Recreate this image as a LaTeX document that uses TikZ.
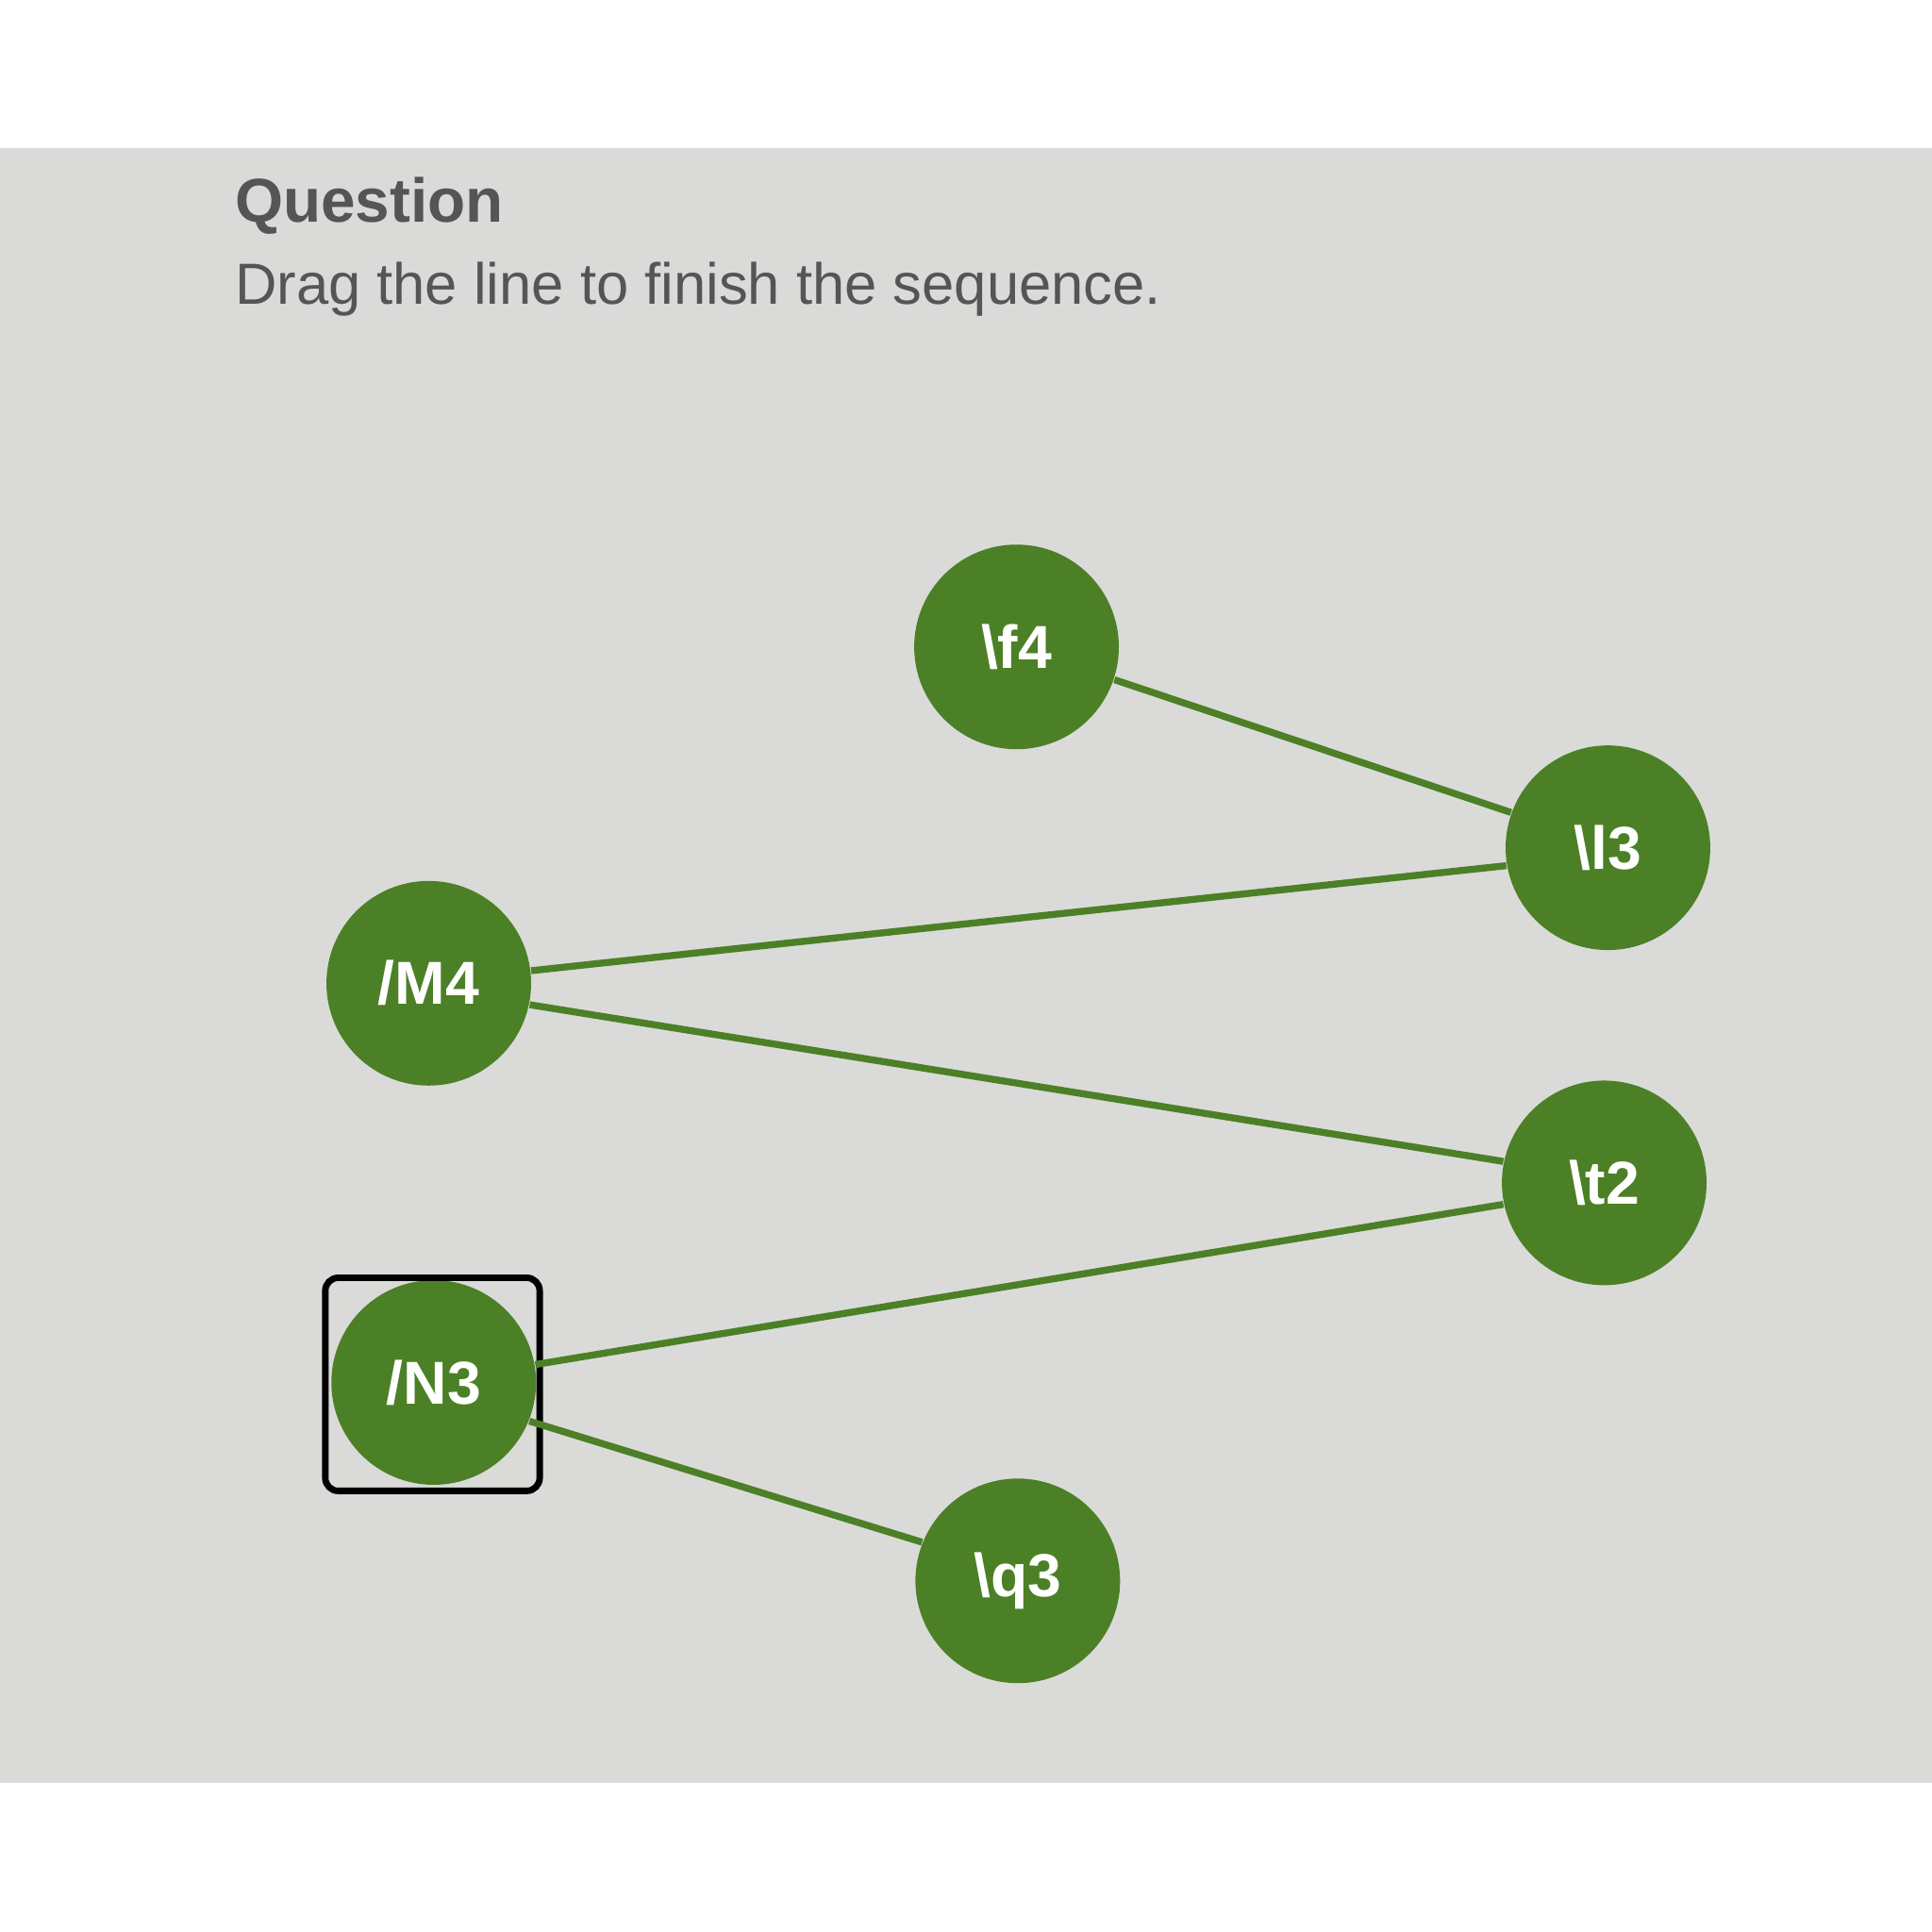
\documentclass[tikz,border=0pt]{standalone}
\usepackage{fontspec}
\setmainfont{Liberation Sans}
\definecolor{gr}{RGB}{76,128,38}
\definecolor{bg}{RGB}{218,219,217}
\definecolor{tx}{RGB}{85,85,85}
\begin{document}
\begin{tikzpicture}[x=0.01cm,y=-0.01cm,
  nd/.style={circle,fill=gr,minimum size=1.66cm,inner sep=0pt,text=white,font=\bfseries\fontsize{14}{17}\selectfont},
  ln/.style={gr,line width=1.6pt}]
\useasboundingbox (0,0) rectangle (1568,1568);
\fill[white] (0,0) rectangle (1568,1568);
\fill[bg] (0,120) rectangle (1568,1447);
\node[anchor=base west,inner sep=0pt,text=tx,font=\bfseries\fontsize{14.3}{17}\selectfont] (q) at (190,180) {Question};
\node[anchor=base west,inner sep=0pt,text=tx,font=\fontsize{13.4}{16}\selectfont] (d) at (190,247) {Drag the line to finish the sequence.};
\node[nd] (f4) at (825,525) {\textbackslash f4};
\node[nd] (l3) at (1305,688) {\textbackslash l3};
\node[nd] (m4) at (348,798) {/M4};
\node[nd] (t2) at (1302,960) {\textbackslash t2};
\node[nd] (n3) at (352,1122) {/N3};
\node[nd] (q3) at (826,1283) {\textbackslash q3};
\draw[line width=1.5pt,rounded corners=3pt] (264,1037) rectangle (438,1210);
\draw[ln] (f4) -- (l3.160);
\draw[ln] (m4.7) -- (l3.190);
\draw[ln] (m4.-12) -- (t2.168);
\draw[ln] (n3.10) -- (t2.192);
\draw[ln] (n3.-22) -- (q3.158);
\end{tikzpicture}
\end{document}
